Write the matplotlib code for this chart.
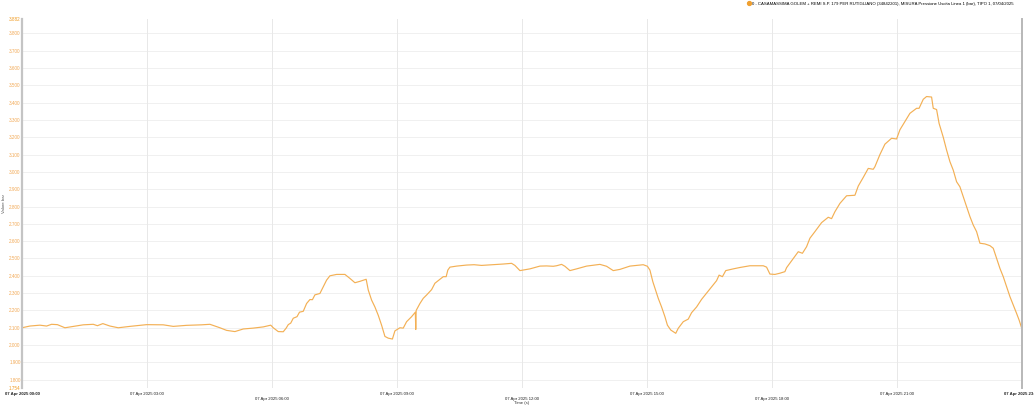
import matplotlib
matplotlib.use("Agg")
from matplotlib import pyplot as plt
from matplotlib.lines import Line2D

plt.rcParams['font.family'] = ['Liberation Sans', 'DejaVu Sans']

# hours since 07 Apr 2025 00:00 and pressure (bar)
hours = [0.00, 0.19, 0.43, 0.59, 0.71, 0.85, 1.03, 1.23, 1.47, 1.71, 1.81, 1.94,
         2.11, 2.31, 2.59, 2.99, 3.39, 3.63, 3.95, 4.31, 4.51, 4.75, 4.91, 5.11,
         5.31, 5.55, 5.79, 5.97, 6.03, 6.15, 6.27, 6.34, 6.39, 6.45, 6.51, 6.60,
         6.66, 6.75, 6.83, 6.91, 6.97, 7.03, 7.15, 7.23, 7.31, 7.39, 7.55, 7.75,
         7.87, 7.99, 8.11, 8.26, 8.31, 8.39, 8.47, 8.55, 8.63, 8.71, 8.79, 8.89,
         8.95, 9.07, 9.15, 9.23, 9.35, 9.44, 9.45, 9.46, 9.55, 9.63, 9.71, 9.83,
         9.91, 10.03, 10.11, 10.18, 10.22, 10.27, 10.43, 10.67, 10.85, 11.03,
         11.31, 11.55, 11.75, 11.83, 11.95, 12.19, 12.43, 12.59, 12.75, 12.83,
         12.95, 13.03, 13.15, 13.31, 13.55, 13.87, 14.03, 14.19, 14.35, 14.59,
         14.91, 15.01, 15.07, 15.14, 15.22, 15.27, 15.35, 15.43, 15.49, 15.57,
         15.69, 15.75, 15.87, 15.99, 16.07, 16.19, 16.31, 16.43, 16.55, 16.67,
         16.73, 16.81, 16.89, 17.07, 17.23, 17.47, 17.79, 17.87, 17.95, 18.07,
         18.19, 18.31, 18.35, 18.51, 18.63, 18.73, 18.83, 18.91, 19.03, 19.19,
         19.35, 19.43, 19.51, 19.63, 19.79, 19.99, 20.07, 20.19, 20.31, 20.43,
         20.47, 20.59, 20.71, 20.87, 20.99, 21.07, 21.19, 21.31, 21.47, 21.53,
         21.63, 21.71, 21.83, 21.87, 21.95, 22.01, 22.11, 22.19, 22.27, 22.35,
         22.43, 22.51, 22.59, 22.67, 22.75, 22.83, 22.91, 22.99, 23.11, 23.23,
         23.31, 23.39, 23.47, 23.55, 23.63, 23.71, 23.79, 23.87, 23.93, 23.99]
pressure = [2.100, 2.110, 2.115, 2.110, 2.120, 2.118, 2.100, 2.108, 2.117, 2.120, 2.112, 2.124,
            2.110, 2.100, 2.108, 2.118, 2.117, 2.108, 2.114, 2.117, 2.120, 2.100, 2.085, 2.078,
            2.093, 2.098, 2.105, 2.115, 2.100, 2.078, 2.077, 2.098, 2.118, 2.127, 2.155, 2.164,
            2.190, 2.195, 2.240, 2.263, 2.262, 2.290, 2.298, 2.337, 2.375, 2.400, 2.408, 2.408,
            2.385, 2.360, 2.368, 2.380, 2.318, 2.260, 2.220, 2.172, 2.115, 2.050, 2.040, 2.035,
            2.082, 2.100, 2.098, 2.135, 2.164, 2.190, 2.090, 2.200, 2.240, 2.270, 2.289, 2.320,
            2.357, 2.380, 2.395, 2.395, 2.433, 2.450, 2.456, 2.462, 2.464, 2.460,
            2.464, 2.468, 2.472, 2.460, 2.430, 2.440, 2.456, 2.457, 2.455, 2.458,
            2.466, 2.455, 2.430, 2.440, 2.456, 2.466, 2.455, 2.430, 2.437, 2.456,
            2.464, 2.455, 2.433, 2.366, 2.307, 2.270, 2.220, 2.164, 2.115, 2.087,
            2.068, 2.097, 2.135, 2.150, 2.187, 2.220, 2.264, 2.300, 2.337, 2.372,
            2.404, 2.395, 2.430, 2.440, 2.448, 2.458, 2.458, 2.450, 2.410, 2.408,
            2.415, 2.424, 2.447, 2.500, 2.539, 2.530, 2.568, 2.617, 2.655, 2.707,
            2.738, 2.730, 2.770, 2.818, 2.862, 2.865, 2.918, 2.968, 3.020, 3.015,
            3.030, 3.100, 3.160, 3.194, 3.190, 3.243, 3.290, 3.338, 3.367, 3.367,
            3.419, 3.435, 3.432, 3.367, 3.360, 3.280, 3.200, 3.126, 3.059, 3.010,
            2.943, 2.914, 2.857, 2.800, 2.742, 2.693, 2.655, 2.588, 2.584, 2.574,
            2.559, 2.500, 2.443, 2.395, 2.337, 2.280, 2.232, 2.183, 2.145, 2.100]

x_ticks = [0, 3, 6, 9, 12, 15, 18, 21, 24]
x_labels = ["07 Apr 2025 00:00", "07 Apr 2025 03:00", "07 Apr 2025 06:00",
            "07 Apr 2025 09:00", "07 Apr 2025 12:00", "07 Apr 2025 15:00",
            "07 Apr 2025 18:00", "07 Apr 2025 21:00", "07 Apr 2025 23:59"]
y_ticks = [1.754, 1.8, 1.9, 2.0, 2.1, 2.2, 2.3, 2.4, 2.5, 2.6, 2.7, 2.8, 2.9,
           3.0, 3.1, 3.2, 3.3, 3.4, 3.5, 3.6, 3.7, 3.8, 3.882]
y_min, y_max = 1.754, 3.882

series_name = ("0 - CASAMASSIMA GOLEM + REMI S.P. 179 PER RUTIGLIANO (34842201), "
               "MISURA Pressione Uscita Linea 1 (bar), TIPO 1, 07/04/2025")
line_color = '#f3b055'
tick_orange = '#f2a955'

fig = plt.figure(figsize=(10.34, 4.07), dpi=100)
ax = fig.add_axes([22 / 1034, 1 - 387.7 / 407, 1000 / 1034, (387.7 - 19.1) / 407])

ax.plot(hours, pressure, color=line_color, lw=0.85)

ax.set_xlim(0, 24)
ax.set_ylim(y_min, y_max)

# grid
for y in y_ticks[1:-1]:
    ax.axhline(y, color='#f0f0f0', lw=0.7, zorder=0)
for x in x_ticks[1:-1]:
    ax.axvline(x, color='#e8e8e8', lw=0.7, zorder=0)

ax.set_yticks(y_ticks)
ax.set_yticklabels([f"{v:.3f}" for v in y_ticks], fontsize=3.3, color=tick_orange)
ax.get_yticklabels()[0].set_color('#f09a20')
ax.get_yticklabels()[-1].set_color('#f09a20')
ax.tick_params(axis='y', length=0, pad=1)

ax.set_xticks(x_ticks)
ax.set_xticklabels(x_labels, fontsize=3.1, color='#222222')
ax.tick_params(axis='x', length=0)
for i, tick in enumerate(ax.xaxis.get_major_ticks()):
    tick.set_pad(6.8 if i in (2, 4, 6) else 3.4)
ax.get_xticklabels()[0].set_fontweight('bold')
ax.get_xticklabels()[-1].set_fontweight('bold')

ax.set_xlabel("Time (s)", fontsize=3.1, color='#333333')
ax.xaxis.set_label_coords(0.5, -0.035)
ax.set_ylabel("Valore bar", fontsize=3.1, color='#555555')
ax.yaxis.set_label_coords(-0.016, 0.5)

for side in ['top', 'bottom']:
    ax.spines[side].set_visible(False)
ax.spines['left'].set_color('#c4c4c4')
ax.spines['left'].set_linewidth(1.6)
ax.spines['right'].set_color('#b8b8b8')
ax.spines['right'].set_linewidth(1.4)

handle = Line2D([], [], color='#f0a030', marker='o', markersize=2.8, lw=0)
fig.legend([handle], [series_name], loc='upper right',
           bbox_to_anchor=(1015 / 1034, 1.0), frameon=False, fontsize=3.1,
           handlelength=0.6, handletextpad=0.3, borderpad=0.45, borderaxespad=0)

fig.savefig('out.png', dpi=100)
